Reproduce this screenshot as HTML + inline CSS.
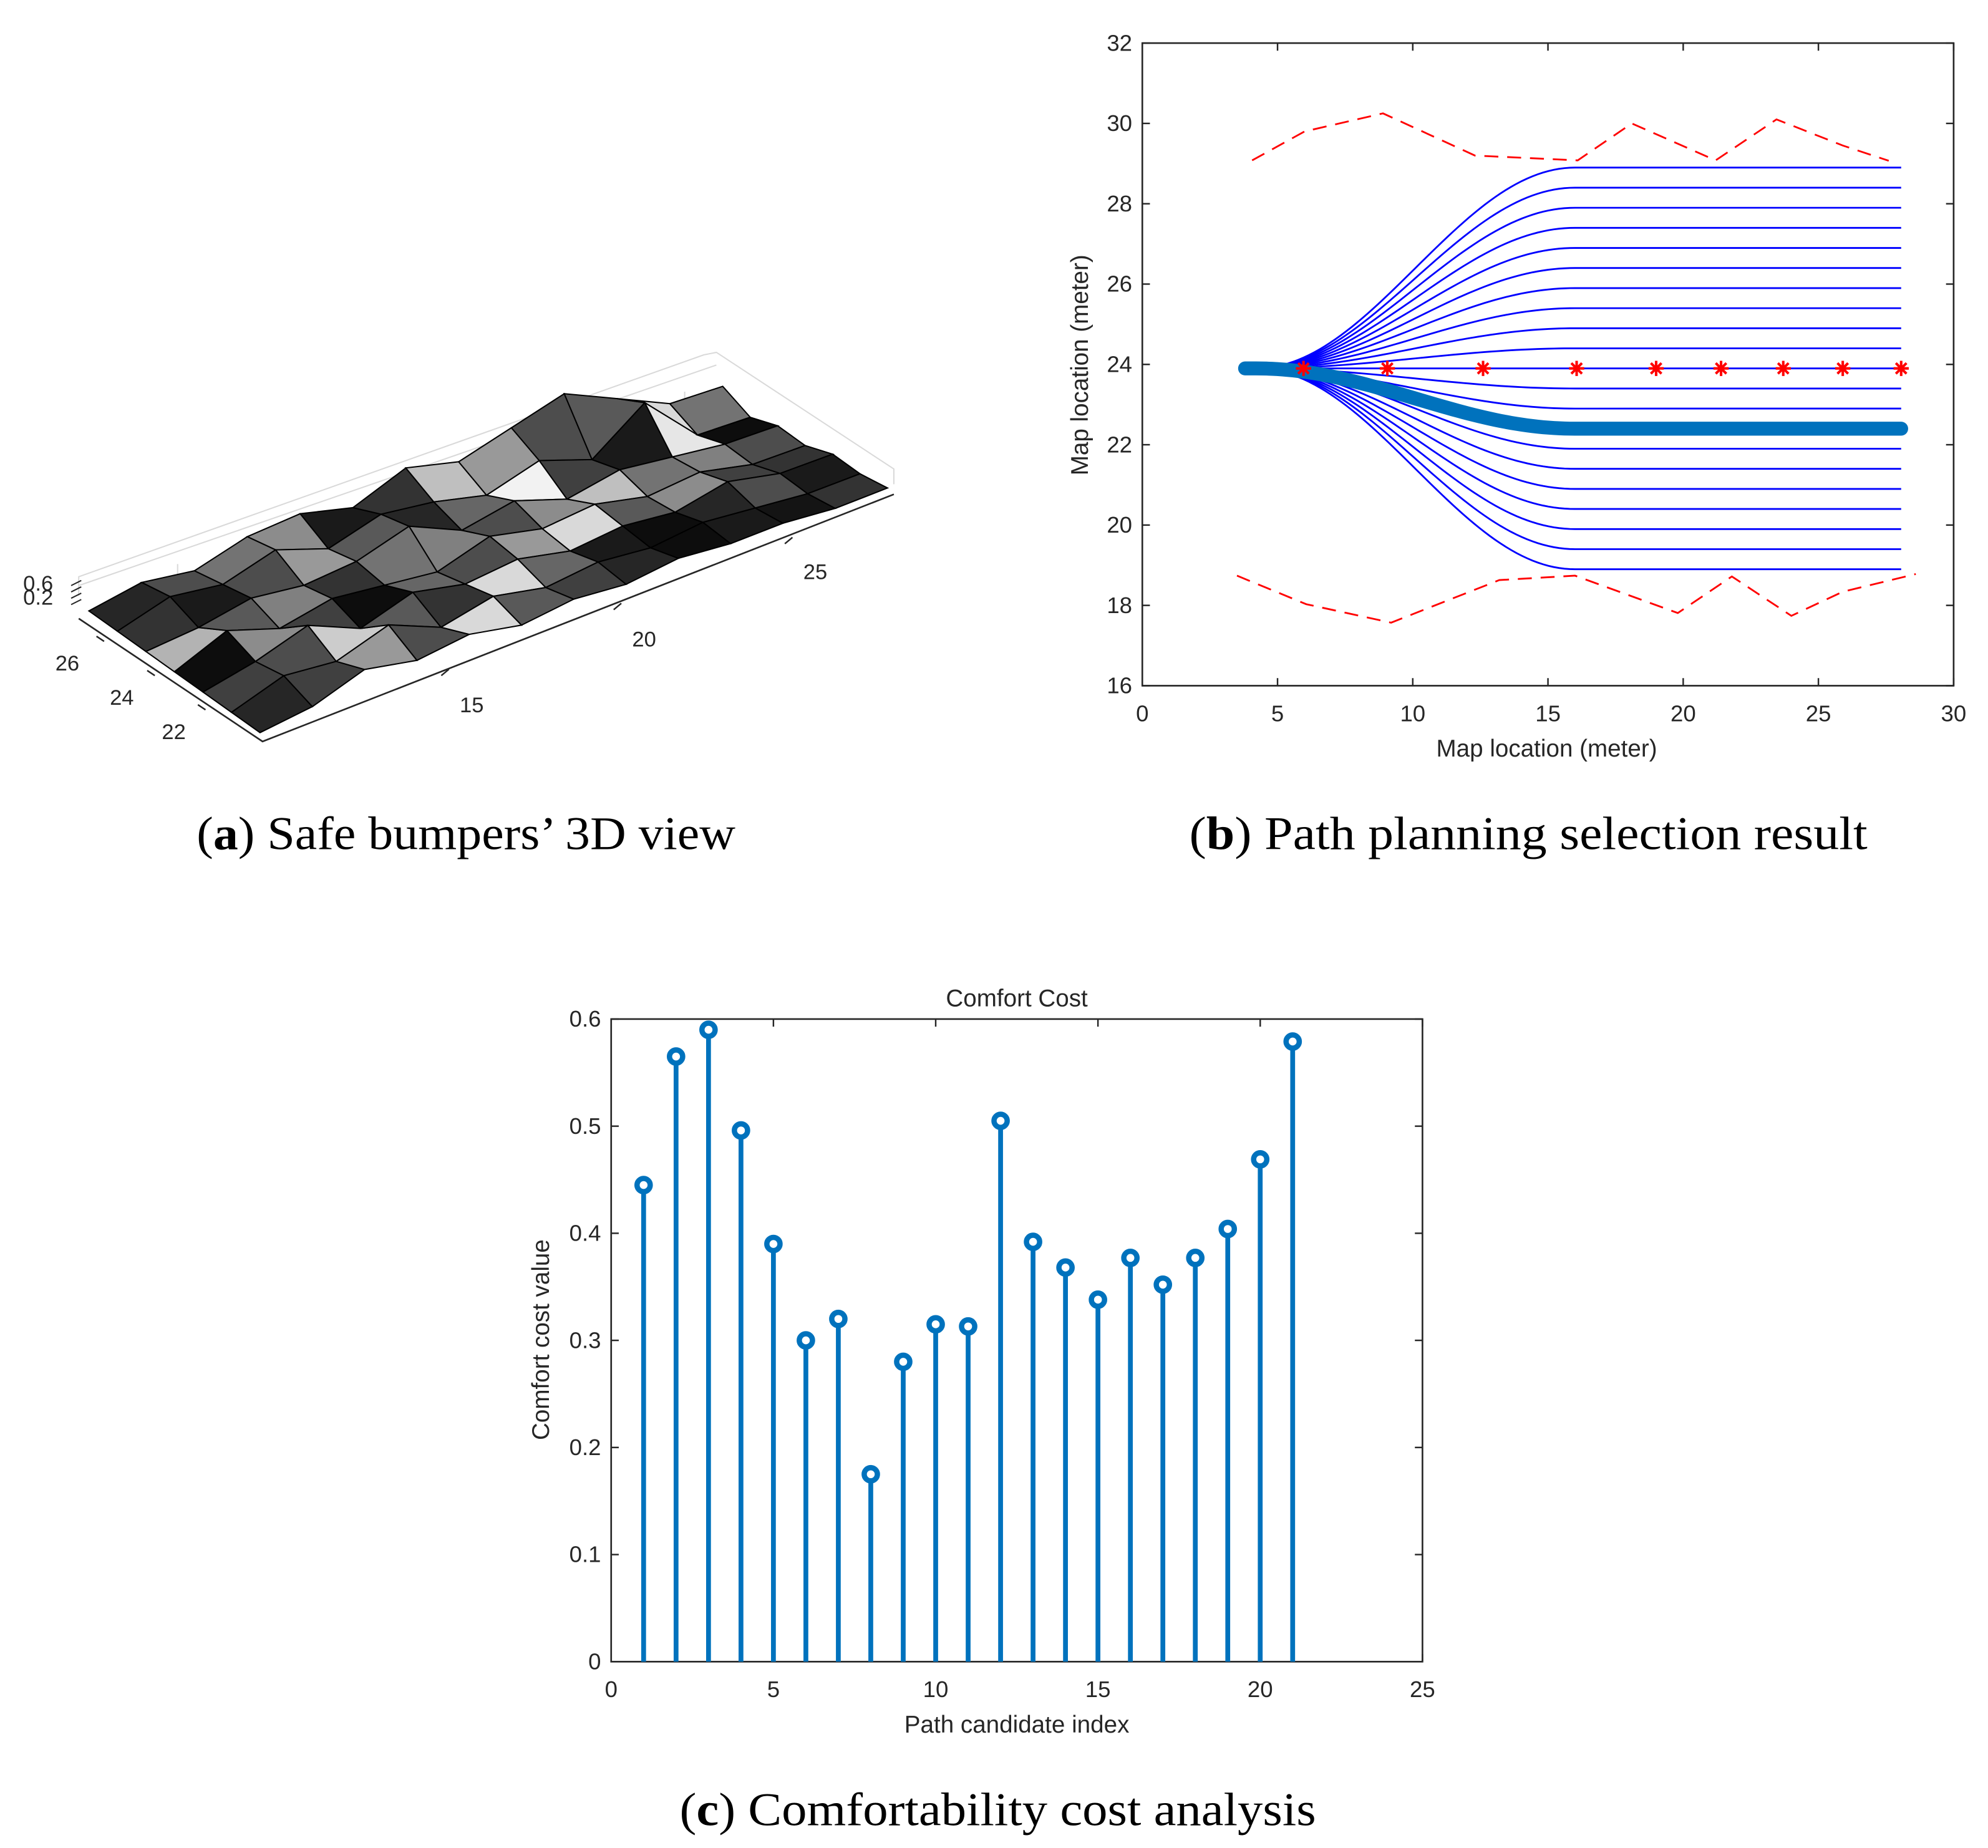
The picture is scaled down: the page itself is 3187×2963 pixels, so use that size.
<!DOCTYPE html>
<html><head><meta charset="utf-8"><style>
html,body{margin:0;padding:0;background:#fff;}
svg{display:block;}
text{font-family:"Liberation Sans",sans-serif;fill:#262626;}
.cap{font-family:"Liberation Serif",serif;fill:#000;font-size:37px;}
</style></head><body>
<svg id="root" width="3187" height="2963" viewBox="0 0 1568 1458" xmlns="http://www.w3.org/2000/svg">
<g id="pa"></g>
<g id="pb"></g>
<g id="pc"></g>
<text class="cap" x="155" y="670" textLength="425" lengthAdjust="spacingAndGlyphs">(<tspan font-weight="bold">a</tspan>) Safe bumpers’ 3D view</text>
<text class="cap" x="938" y="670" textLength="535" lengthAdjust="spacingAndGlyphs">(<tspan font-weight="bold">b</tspan>) Path planning selection result</text>
<text class="cap" x="536" y="1440" textLength="502" lengthAdjust="spacingAndGlyphs">(<tspan font-weight="bold">c</tspan>) Comfortability cost analysis</text>
</svg>
<script>
const NS="http://www.w3.org/2000/svg";
function mk(parent,tag,attrs,txt){const e=document.createElementNS(NS,tag);for(const k in attrs)e.setAttribute(k,attrs[k]);if(txt!==undefined)e.textContent=txt;parent.appendChild(e);return e;}

// ---------- Plot (c) stem data ----------
const stemIndex=[1,2,3,4,5,6,7,8,9,10,11,12,13,14,15,16,17,18,19,20,21];
const stemValues=[0.445,0.565,0.59,0.496,0.39,0.3,0.32,0.175,0.28,0.315,0.313,0.505,0.392,0.368,0.338,0.377,0.352,0.377,0.404,0.469,0.579];
const stemXTicks=[0,5,10,15,20,25];
const stemYTicks=[0,0.1,0.2,0.3,0.4,0.5,0.6];

// ---------- Plot (b) data ----------
const pathEnds=[28.9,28.4,27.9,27.4,26.9,26.4,25.9,25.4,24.9,24.4,23.9,23.4,22.9,22.4,21.9,21.4,20.9,20.4,19.9,19.4,18.9];
const pathStartY=23.9;
const selectedEnd=22.4;
const starX=[5.96,9.06,12.6,16.06,19.0,21.4,23.7,25.9,28.06];
const starY=[23.9,23.9,23.9,23.9,23.9,23.9,23.9,23.9,23.9];
const upperX=[4.06,6.0,8.9,12.3,16.1,18.1,21.2,23.45,25.9,27.6];
const upperY=[29.08,29.8,30.25,29.2,29.08,30.0,29.08,30.1,29.45,29.07];
const lowerX=[3.5,6.06,9.2,13.2,16.0,19.8,21.8,24.0,25.9,28.6];
const lowerY=[18.74,18.03,17.57,18.63,18.74,17.81,18.72,17.74,18.34,18.78];
const pathXTicks=[0,5,10,15,20,25,30];
const pathYTicks=[16,18,20,22,24,26,28,30,32];

// ---------- Plot (a) surface shades (rows back->front, cols left->right) ----------
const shadeRows=[
[0.15,0.3,0.45,0.55,0.1,0.2,0.75,0.6,0.3,0.35,0.85,0.45],
[0.2,0.1,0.3,0.6,0.35,0.15,0.4,0.95,0.25,0.1,0.9,0.05],
[0.7,0.35,0.5,0.2,0.45,0.5,0.3,0.55,0.75,0.45,0.5,0.3],
[0.05,0.55,0.25,0.05,0.4,0.3,0.6,0.85,0.35,0.55,0.25,0.2],
[0.25,0.3,0.8,0.35,0.2,0.85,0.4,0.1,0.05,0.15,0.3,0.1],
[0.15,0.25,0.6,0.3,0.85,0.35,0.25,0.15,0.05,0.1,0.08,0.2]];
const heightRows=[
[0,4,2,8,10,6,14,10,16,22,14,6],
[0,6,4,10,4,10,8,4,10,4,18,0],
[0,2,6,4,6,12,4,8,2,6,4,2],
[0,8,2,6,4,2,8,4,6,2,4,0],
[0,4,10,2,8,4,6,2,4,2,6,2],
[0,6,4,10,2,6,2,4,2,4,2,0],
[0,2,8,4,6,2,4,2,4,2,2,0]];

// ===== Plot (c) =====
(function(){
const g=document.getElementById('pc');
const L=482,R=1122,T=804,B=1311;
const X=v=>L+(v-0)/(25-0)*(R-L);
const Y=v=>B-(v-0)/(0.6-0)*(B-T);
const ax=mk(g,'rect',{x:L,y:T,width:R-L,height:B-T,fill:'none',stroke:'#262626','stroke-width':1.3});


stemXTicks.forEach(t=>{
  const x=X(t);
  mk(g,'line',{x1:x,y1:B,x2:x,y2:B-6,stroke:'#262626','stroke-width':1.2});
  mk(g,'line',{x1:x,y1:T,x2:x,y2:T+6,stroke:'#262626','stroke-width':1.2});
  const tx=mk(g,'text',{x:x,y:B+28,'font-size':18,'text-anchor':'middle'},String(t));
  
  
});
stemYTicks.forEach(t=>{
  const y=Y(t);
  mk(g,'line',{x1:L,y1:y,x2:L+6,y2:y,stroke:'#262626','stroke-width':1.2});
  mk(g,'line',{x1:R,y1:y,x2:R-6,y2:y,stroke:'#262626','stroke-width':1.2});
  const tx=mk(g,'text',{x:L-8,y:y+6,'font-size':18,'text-anchor':'end'},String(t));
  
  
});
stemIndex.forEach((idx,i)=>{
  const x=X(idx),y=Y(stemValues[i]);
  const ln=mk(g,'line',{x1:x,y1:B,x2:x,y2:y,stroke:'#0072BD','stroke-width':3.8});
  
  
  const c=mk(g,'circle',{cx:x,cy:y,r:5.2,fill:'#fff',stroke:'#0072BD','stroke-width':4.2});
  
  
});
const t1=mk(g,'text',{x:802,y:794,'font-size':19,'text-anchor':'middle'},'Comfort Cost');


const t2=mk(g,'text',{x:802,y:1367,'font-size':19,'text-anchor':'middle'},'Path candidate index');


const t3=mk(g,'text',{x:0,y:0,'font-size':19,'text-anchor':'middle',transform:'translate(433,1057) rotate(-90)'},'Comfort cost value');


})();

// ===== Plot (b) =====
(function(){
const g=document.getElementById('pb');
const L=901,R=1541,T=34,B=541;
const X=v=>L+(v-0)/(30-0)*(R-L);
const Y=v=>B-(v-16)/(32-16)*(B-T);
const x0=3.8,xs=4.2,xe=16,xEnd=28.06;
function pathD(yend){
  let d='M'+X(x0)+','+Y(pathStartY)+' L'+X(xs)+','+Y(pathStartY);
  for(let k=1;k<=60;k++){const t=k/60;const x=xs+(xe-xs)*t;const s=(1-Math.cos(Math.PI*t))/2;d+=' L'+X(x).toFixed(2)+','+Y(pathStartY+(yend-pathStartY)*s).toFixed(2);}
  d+=' L'+X(xEnd)+','+Y(yend);return d;}
pathEnds.forEach(e=>{
  const p=mk(g,'path',{d:pathD(e),fill:'none',stroke:'#0000FF','stroke-width':1.4});
  
  
});
const sel=mk(g,'path',{d:pathD(selectedEnd),fill:'none',stroke:'#0072BD','stroke-width':11,'stroke-linecap':'round','stroke-linejoin':'round'});


function poly(xs,ys){return xs.map((x,i)=>X(x)+','+Y(ys[i])).join(' ');}
const up=mk(g,'polyline',{points:poly(upperX,upperY),fill:'none',stroke:'#FF0000','stroke-width':1.4,'stroke-dasharray':'11,7'});


const lo=mk(g,'polyline',{points:poly(lowerX,lowerY),fill:'none',stroke:'#FF0000','stroke-width':1.4,'stroke-dasharray':'11,7'});


starX.forEach((sx,i)=>{
  const cx=X(sx),cy=Y(starY[i]),r=6;
  const s=mk(g,'path',{d:`M${cx-r},${cy}H${cx+r}M${cx},${cy-r}V${cy+r}M${cx-r*0.7},${cy-r*0.7}L${cx+r*0.7},${cy+r*0.7}M${cx-r*0.7},${cy+r*0.7}L${cx+r*0.7},${cy-r*0.7}`,stroke:'#FF0000','stroke-width':2,fill:'none'});
  
  
});
const ax=mk(g,'rect',{x:L,y:T,width:R-L,height:B-T,fill:'none',stroke:'#262626','stroke-width':1.3});


pathXTicks.forEach(t=>{
  const x=X(t);
  mk(g,'line',{x1:x,y1:B,x2:x,y2:B-6,stroke:'#262626','stroke-width':1.2});
  mk(g,'line',{x1:x,y1:T,x2:x,y2:T+6,stroke:'#262626','stroke-width':1.2});
  const tx=mk(g,'text',{x:x,y:B+28,'font-size':18,'text-anchor':'middle'},String(t));
  
  
});
pathYTicks.forEach(t=>{
  const y=Y(t);
  mk(g,'line',{x1:L,y1:y,x2:L+6,y2:y,stroke:'#262626','stroke-width':1.2});
  mk(g,'line',{x1:R,y1:y,x2:R-6,y2:y,stroke:'#262626','stroke-width':1.2});
  const tx=mk(g,'text',{x:L-8,y:y+6,'font-size':18,'text-anchor':'end'},String(t));
  
  
});
const t2=mk(g,'text',{x:1220,y:597,'font-size':19,'text-anchor':'middle'},'Map location (meter)');


const t3=mk(g,'text',{x:0,y:0,'font-size':19,'text-anchor':'middle',transform:'translate(858,288) rotate(-90)'},'Map location (meter)');


})();

// ===== Plot (a) 3D surface =====
(function(){
const g=document.getElementById('pa');
const BL=[70,482],BR=[570,318],FL=[205,578],FR=[700,385];
const nc=12,nr=6,HS=2.2;
function P(c,r){const u=c/nc,v=r/nr;
  const x=(1-v)*((1-u)*BL[0]+u*BR[0])+v*((1-u)*FL[0]+u*FR[0]);
  const y=(1-v)*((1-u)*BL[1]+u*BR[1])+v*((1-u)*FL[1]+u*FR[1]);
  const h=heightRows[r][Math.min(c,nc-1)]*HS;
  return [x,y-h];}
const gridC='#d9d9d9';
mk(g,'polyline',{points:'62,470 62,455 555,280 565,278 705,370 705,382',fill:'none',stroke:gridC,'stroke-width':1});
for(let k=0;k<5;k++){const x=140+k*100;const y=445-k*34;mk(g,'line',{x1:x,y1:y,x2:x,y2:y+14,stroke:gridC,'stroke-width':1});}
mk(g,'line',{x1:62,y1:462,x2:565,y2:288,stroke:gridC,'stroke-width':1});
const axl=mk(g,'polyline',{points:'62,488 207,585 705,390',fill:'none',stroke:'#262626','stroke-width':1.3});


for(let r=0;r<nr;r++){for(let c=0;c<nc;c++){
  const a=P(c,r),b=P(c+1,r),d=P(c+1,r+1),e=P(c,r+1);
  const v=Math.round(255*shadeRows[r][c]);
  const q=mk(g,'polygon',{points:[a,b,d,e].map(p=>p[0].toFixed(1)+','+p[1].toFixed(1)).join(' '),fill:`rgb(${v},${v},${v})`,stroke:'#000','stroke-width':1});
  
  
}}
const lab=[['15',372,562],['20',508,510],['25',643,457],['22',137,583],['24',96,556],['26',53,529],['0.6',30,466],['0.2',30,477]];
lab.forEach(l=>{const t=mk(g,'text',{x:l[1],y:l[2],'font-size':17,'text-anchor':'middle'},l[0]);
  
  });
[[354,528,348,533],[490,476,484,481],[625,424,619,429],[162,560,156,556],[122,533,116,529],[82,506,76,502]].forEach(t=>mk(g,'line',{x1:t[0],y1:t[1],x2:t[2],y2:t[3],stroke:'#262626','stroke-width':1.2}));
for(let k=0;k<4;k++)mk(g,'line',{x1:56,y1:462+k*5,x2:64,y2:458+k*5,stroke:'#262626','stroke-width':1});
})();
</script>
</body></html>
